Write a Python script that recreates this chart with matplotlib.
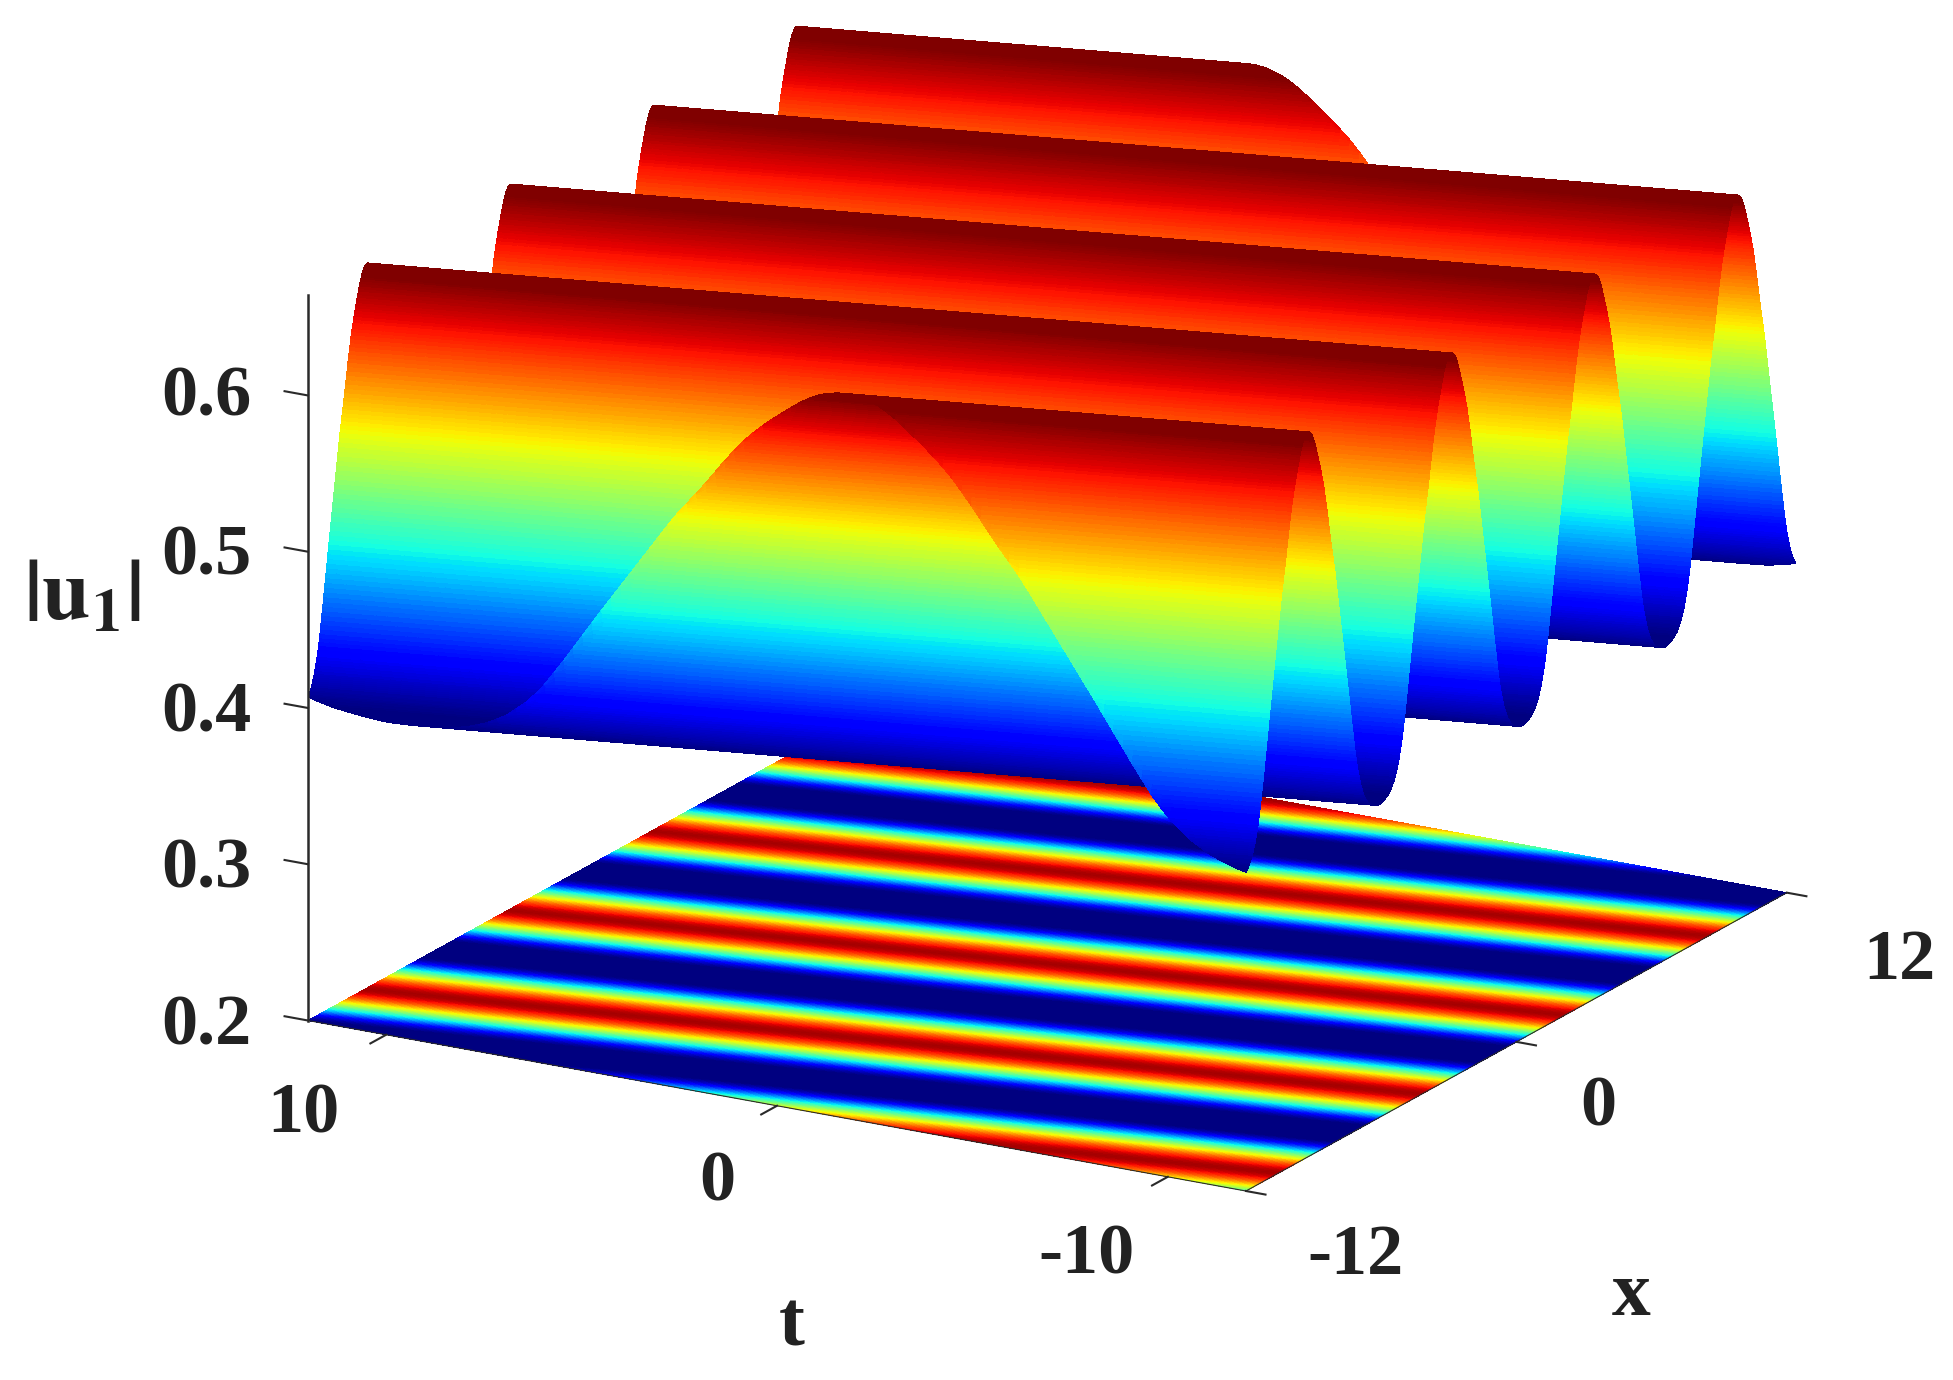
import numpy as np
import matplotlib
matplotlib.use('Agg')
import matplotlib.pyplot as plt

plt.rcParams['font.family'] = ['Liberation Serif', 'DejaVu Serif']
plt.rcParams['mathtext.fontset'] = 'stix'

# amplitude, against distance from a crest
crest_dist = [0, 0.1, 0.2, 0.3, 0.4, 0.55, 0.7, 0.85, 1.0, 1.2, 1.45, 1.7, 1.95, 2.1, 2.2,
              2.35, 2.5, 2.65, 2.8, 3.0, 3.175]
crest_u = [0.664, 0.663, 0.660, 0.655, 0.648, 0.637, 0.624, 0.607, 0.588, 0.565, 0.531, 0.497,
           0.462, 0.442, 0.431, 0.419, 0.411, 0.406, 0.403, 0.401, 0.400]
period = 6.35        # crest spacing in x
drift = 0.27         # crest shift in x per unit of -t
crest_x0 = -9.25     # crest position at t=-12
floor_drift = 0.22   # the stripes on the floor are not quite under the crests
floor_x0 = -10.6

x_range = [-12, 12]
surf_x_max = 12.4
t_range = [-12, 12]
z_range = [0.2, 0.68]
x_ticks = [-12, 0, 12]
t_ticks = [-10, 0, 10]
z_ticks = [0.2, 0.3, 0.4, 0.5, 0.6]
z_top = 0.664


def mesh(nb, nt, x0, dr, xmax):
    # mesh lines follow the crests so the colour bands stay smooth, clipped at the x limits
    b = np.linspace(-12, 19, nb)
    t = np.linspace(t_range[0], t_range[1], nt)
    B, T = np.meshgrid(b, t)
    X = np.clip(B - dr * (T + 12), x_range[0], xmax)
    d = X - (x0 - dr * (T + 12))
    d = np.abs((d + period / 2) % period - period / 2)
    return X, T, np.interp(d, crest_dist, crest_u)


fig = plt.figure(figsize=(19.53, 13.8), dpi=100)
# square axes bigger than the figure so nothing gets clipped
ax = fig.add_axes([-185 / 1953, -434 / 1380, 2400 / 1953, 2400 / 1380], projection='3d')
ax.computed_zorder = False
ax.set_proj_type('ortho')
ax.view_init(elev=18.46, azim=-150.14)
ax.set_box_aspect((2010, 2001, 1463), zoom=0.6977)
ax.set_xlim(*x_range, view_margin=0)
ax.set_ylim(*t_range, view_margin=0)
ax.set_zlim(*z_range, view_margin=0)
ax.set_axis_off()

X, T, U = mesh(600, 60, floor_x0, floor_drift, x_range[1])
floor_norm = plt.Normalize(0.41, 0.673)
ax.plot_surface(X, T, np.full_like(U, z_range[0]), facecolors=plt.cm.jet(floor_norm(U)), shade=False,
                rcount=60, ccount=600, linewidth=0, antialiased=False, zorder=1)
X, T, U = mesh(1500, 100, crest_x0, drift, surf_x_max)
ax.plot_surface(X, T, U, cmap='jet', norm=plt.Normalize(0.4025, 0.658), rcount=100, ccount=1500,
                linewidth=0, antialiased=False, zorder=2)

# axis lines and ticks
c = '#2a2a2a'
ax.plot([-12, -12], [12, 12], [z_range[0], z_top], color=c, lw=1.8, zorder=3)
ax.plot([-12, -12], [12, -12], [0.2, 0.2], color=c, lw=0.8, zorder=3)
ax.plot([-12, 12], [-12, -12], [0.2, 0.2], color=c, lw=0.8, zorder=3)
for v in z_ticks:
    ax.plot([-12, -12], [12, 12.6], [v, v], color=c, lw=1.5, zorder=3)
for v in t_ticks:
    ax.plot([-12, -12.7], [v, v], [0.2, 0.2], color=c, lw=1.5, zorder=3)
for v in x_ticks:
    ax.plot([v, v], [-12, -12.5], [0.2, 0.2], color=c, lw=1.5, zorder=3)


def label(px, py, s, size=52):
    fig.text(px / 1560, 1 - py / 1102, s, ha='center', va='center', fontsize=size,
             fontweight='bold', color='#222222')


for v, py in zip(z_ticks, [820, 695, 570, 445, 318]):
    label(165, py, f'{v:.1f}')
for v, px, py in zip(t_ticks, [868, 573, 242], [1003, 945, 890]):
    label(px, py, str(v))
for v, px, py in zip(x_ticks, [1083, 1277, 1517], [1003, 885, 768]):
    label(px, py, str(v))
label(632, 1060, 't', 56)
label(1303, 1035, 'x', 56)
label(65, 478, r'$\mathbf{|u_1|}$', 62)

fig.savefig('out.png', dpi=100)
